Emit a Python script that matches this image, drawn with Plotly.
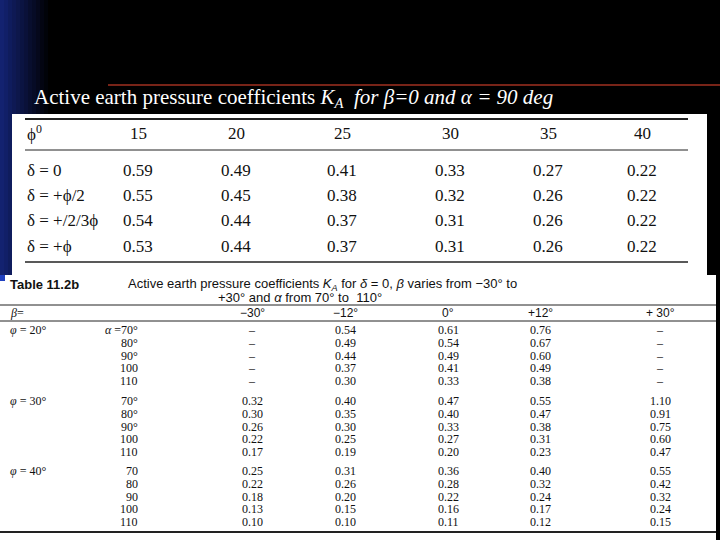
import plotly.graph_objects as go

# ---- data: upper table ----
phi_cols = ["15", "20", "25", "30", "35", "40"]
delta_rows = ["δ = 0", "δ = +ϕ/2", "δ = +/2/3ϕ", "δ = +ϕ"]
ka_upper = [
    [0.59, 0.49, 0.41, 0.33, 0.27, 0.22],
    [0.55, 0.45, 0.38, 0.32, 0.26, 0.22],
    [0.54, 0.44, 0.37, 0.31, 0.26, 0.22],
    [0.53, 0.44, 0.37, 0.31, 0.26, 0.22],
]
# ---- data: lower table ----
beta_cols = ["−30°", "−12°", "0°", "+12°", "+ 30°"]
phi_groups = ["<i>φ</i> = 20°", "<i>φ</i> = 30°", "<i>φ</i> = 40°"]
alpha_labels = [
    ["<i>α</i> =70°", "80°", "90°", "100", "110"],
    ["70°", "80°", "90°", "100", "110"],
    ["70", "80", "90", "100", "110"],
]
ka_lower = [
    [["–", "0.54", "0.61", "0.76", "–"],
     ["–", "0.49", "0.54", "0.67", "–"],
     ["–", "0.44", "0.49", "0.60", "–"],
     ["–", "0.37", "0.41", "0.49", "–"],
     ["–", "0.30", "0.33", "0.38", "–"]],
    [["0.32", "0.40", "0.47", "0.55", "1.10"],
     ["0.30", "0.35", "0.40", "0.47", "0.91"],
     ["0.26", "0.30", "0.33", "0.38", "0.75"],
     ["0.22", "0.25", "0.27", "0.31", "0.60"],
     ["0.17", "0.19", "0.20", "0.23", "0.47"]],
    [["0.25", "0.31", "0.36", "0.40", "0.55"],
     ["0.22", "0.26", "0.28", "0.32", "0.42"],
     ["0.18", "0.20", "0.22", "0.24", "0.32"],
     ["0.13", "0.15", "0.16", "0.17", "0.24"],
     ["0.10", "0.10", "0.11", "0.12", "0.15"]],
]

fig = go.Figure()
shapes = []
ann = []
SERIF = "Liberation Serif"
SANS = "Liberation Sans"
INK = "#111"

# background blue gradient on left
for i in range(12):
    x0 = i * 4
    a = 0.75 * (1 - i / 12)
    shapes.append(dict(type="rect", x0=x0, x1=x0 + 4, y0=0, y1=540, line_width=0,
                       fillcolor=f"rgba(25,45,150,{a:.2f})", layer="below"))
shapes.append(dict(type="line", x0=108, x1=720, y0=85, y1=85, line=dict(color="#a03020", width=1.5)))
shapes.append(dict(type="rect", x0=12, x1=707, y0=114, y1=275, fillcolor="white", line_width=0))
shapes.append(dict(type="rect", x0=0, x1=716, y0=275, y1=540, fillcolor="white", line_width=0))
shapes.append(dict(type="rect", x0=0, x1=5, y0=275, y1=281, fillcolor="#2040c0", line_width=0))

ann.append(dict(x=32, y=98, xanchor="left",
                text="Active earth pressure coefficients <i>K<sub>A</sub>  for β=0 and α = 90 deg</i>",
                font=dict(family=SERIF, size=21, color="white")))

# upper table
for y, w in [(119, 2), (150, 1), (262, 1.5)]:
    shapes.append(dict(type="line", x0=25, x1=688, y0=y, y1=y, line=dict(color="#222", width=w)))
ucx = [138, 236, 342, 450, 548, 642]
ann.append(dict(x=25, y=133, xanchor="left", text="ϕ<sup>0</sup>", font=dict(family=SERIF, size=17, color=INK)))
for c, t in zip(ucx, phi_cols):
    ann.append(dict(x=c, y=133, text=t, font=dict(family=SERIF, size=17, color=INK)))
uy = [170, 195, 220, 246]
for r, lab in enumerate(delta_rows):
    ann.append(dict(x=25, y=uy[r], xanchor="left", text=lab, font=dict(family=SERIF, size=17, color=INK)))
    for c, v in zip(ucx, ka_upper[r]):
        ann.append(dict(x=c, y=uy[r], text=f"{v:.2f}", font=dict(family=SERIF, size=17, color=INK)))

# lower table
ann.append(dict(x=8, y=284, xanchor="left", text="<b>Table 11.2b</b>", font=dict(family=SANS, size=13, color=INK)))
ann.append(dict(x=126, y=284, xanchor="left",
                text="Active earth pressure coefficients <i>K<sub>A</sub></i> for <i>δ</i> = 0, <i>β</i> varies from −30° to",
                font=dict(family=SANS, size=13, color=INK)))
ann.append(dict(x=300, y=297, text="+30° and <i>α</i> from 70° to  110°", font=dict(family=SANS, size=13, color=INK)))
for y, w in [(305, 1), (321, 1), (532, 2)]:
    shapes.append(dict(type="line", x0=0, x1=716, y0=y, y1=y, line=dict(color="#222", width=w)))
lcx = [252, 345, 448, 540, 660]
ann.append(dict(x=8, y=313, xanchor="left", text="<i>β</i>=", font=dict(family=SERIF, size=12, color=INK)))
for c, t in zip(lcx, beta_cols):
    ann.append(dict(x=c, y=313, text=t, font=dict(family=SANS, size=12, color=INK)))
gy0 = [330, 401, 471]
for g, lab in enumerate(phi_groups):
    ann.append(dict(x=8, y=gy0[g], xanchor="left", text=lab, font=dict(family=SERIF, size=12, color=INK)))
    for r in range(5):
        y = gy0[g] + r * 12.8
        ann.append(dict(x=140, y=y, xanchor="right", text=alpha_labels[g][r],
                        font=dict(family=SERIF, size=12, color=INK)))
        for c, v in zip(lcx, ka_lower[g][r]):
            ann.append(dict(x=c, y=y, text=v, font=dict(family=SERIF, size=12, color=INK)))

for a in ann:
    a.update(xref="x", yref="y", showarrow=False, yanchor="middle")

fig.update_layout(width=720, height=540, margin=dict(l=0, r=0, t=0, b=0),
                  paper_bgcolor="black", plot_bgcolor="black",
                  xaxis=dict(range=[0, 720], visible=False, fixedrange=True),
                  yaxis=dict(range=[540, 0], visible=False, fixedrange=True),
                  shapes=shapes, annotations=ann, showlegend=False)
fig.write_html("out.html", config={"displayModeBar": False},
               post_script="document.body.style.margin='0';document.body.style.background='black';")
